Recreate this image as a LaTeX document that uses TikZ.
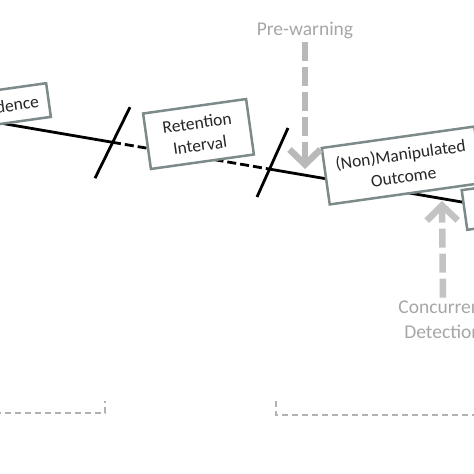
\documentclass[tikz,border=0pt]{standalone}
\usepackage{fontspec}
\setmainfont{Carlito}
\usetikzlibrary{arrows.meta}
\definecolor{boxgray}{RGB}{125,138,138}
\definecolor{textgray}{RGB}{38,38,38}
\definecolor{cuegray}{RGB}{166,166,166}
\definecolor{arrowgray}{RGB}{185,185,185}
\definecolor{bracegray}{RGB}{178,178,178}
\tikzset{
	event/.style={draw=boxgray, line width=2.5pt, fill=white, rotate=8, align=center, text=textgray, font=\fontsize{17.5}{22.5}\selectfont, inner sep=0pt},
	cue/.style={text=cuegray, align=center, font=\fontsize{19.5}{25}\selectfont},
	cuearrow/.style={draw=arrowgray, line width=6.5pt, dash pattern=on 19pt off 6pt, -{Straight Barb[length=15pt,width=31pt]}},
	timeline/.style={line width=2.8pt},
	bracket/.style={draw=bracegray, line width=1.2pt, dash pattern=on 6pt off 4pt}
}
\begin{document}
\begin{tikzpicture}[x=1pt,y=-1pt]
	\useasboundingbox (0,0) rectangle (474,474);
	\clip (0,0) rectangle (474,474);
	\coordinate (t0) at (-10,121.3);
	\coordinate (cut1) at (112,142.2);
	\coordinate (cut2) at (269,169);
	\coordinate (t1) at (494,207.5);
	\draw[timeline] (t0) -- (cut1);
	\draw[timeline, dash pattern=on 9pt off 4pt] (cut1) -- (cut2);
	\draw[timeline] (cut2) -- (t1);
	\draw[timeline] (cut1) ++(-17,36) -- ++(35,-71);
	\draw[timeline] (cut2) ++(-12,28) -- ++(31,-69);
%	events
	\node[event, minimum width=100pt, minimum height=34pt] (conf) at (-1,107) {Confidence};
	\node[event, minimum width=104pt, minimum height=56pt] (ret) at (198.5,134) {Retention\\Interval};
	\node[event, minimum width=154pt, minimum height=57pt] (outc) at (402,165.5) {(Non)Manipulated\\Outcome};
	\node[event, minimum width=100pt, minimum height=40pt] (next) at (514,203) {};
%	cues
	\node[cue] (pw) at (305,30) {Pre-warning};
	\node[cue] (cd) at (443,320) {Concurrent\\Detection};
	\coordinate (pwtip) at (305,169);
	\coordinate (cdtip) at (442,201);
	\draw[cuearrow] (pw.south) -- (pwtip);
	\draw[cuearrow, draw=arrowgray!85] (cd.north) -- (cdtip);
	\draw[bracket] (-5,413) -- (105,413) -- (105,401);
	\draw[bracket] (276,401) -- (276,415) -- (480,415);
\end{tikzpicture}
\end{document}
